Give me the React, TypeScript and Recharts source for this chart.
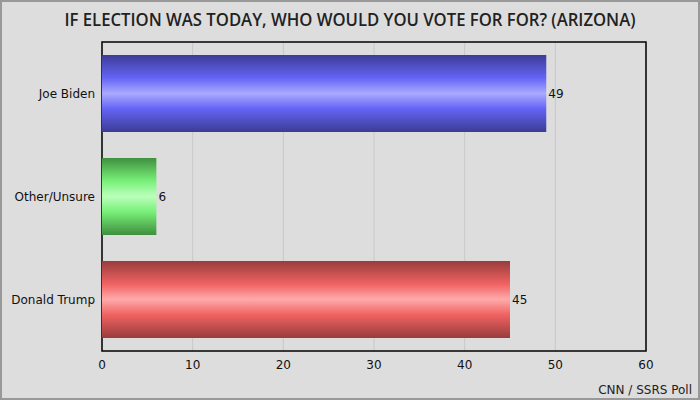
import React from 'react';
import { BarChart, Bar, XAxis, YAxis, CartesianGrid, LabelList, ReferenceArea, Cell } from 'recharts';

const categories = ['Joe Biden', 'Other/Unsure', 'Donald Trump'];
const values = [49, 6, 45];
const xTicks = [0, 10, 20, 30, 40, 50, 60];
const gradIds = ['gBlue', 'gGreen', 'gRed'];

const data = categories.map((name, i) => ({ name, value: values[i] }));

const grads = [
  { id: 'gBlue', edge: '#3c3c96', mid: '#6464f5', center: '#aaaaff' },
  { id: 'gGreen', edge: '#3f8f3f', mid: '#78f078', center: '#bbffbb' },
  { id: 'gRed', edge: '#983c3c', mid: '#f06262', center: '#ffaaaa' },
];

export default function App() {
  return (
    <div style={{ position: 'absolute', left: 0, top: 0, width: 700, height: 400, background: '#dddddd', boxSizing: 'border-box', border: '2px solid #999999', overflow: 'hidden' }}>
      <div style={{ position: 'absolute', left: -2, top: -2 }}>
        <BarChart width={700} height={400} data={data} layout="vertical" margin={{ top: 42, right: 54, bottom: 19, left: 0 }} barCategoryGap="12.5%">
          <defs>
            {grads.map(g => (
              <linearGradient key={g.id} id={g.id} x1="0" y1="0" x2="0" y2="1">
                <stop offset="0%" stopColor={g.edge} />
                <stop offset="30%" stopColor={g.mid} />
                <stop offset="50%" stopColor={g.center} />
                <stop offset="70%" stopColor={g.mid} />
                <stop offset="100%" stopColor={g.edge} />
              </linearGradient>
            ))}
          </defs>
          <CartesianGrid horizontal={false} stroke="#c8c8c8" fill="#dddddd" />
          <XAxis type="number" domain={[0, 60]} ticks={xTicks} height={30} tickLine={false} axisLine={false} tickSize={0} tickMargin={9} tick={{ fill: '#111', fontSize: 12, fontFamily: 'DejaVu Sans' }} interval={0} />
          <YAxis type="category" dataKey="name" width={102} tickLine={false} axisLine={false} tickSize={0} tickMargin={7} tick={{ fill: '#111', fontSize: 12, fontFamily: 'DejaVu Sans' }} />
          <ReferenceArea x1={0} x2={60} fill="none" stroke="#000" strokeOpacity={1} strokeWidth={1.5} fillOpacity={0} ifOverflow="visible" />
          <Bar dataKey="value" isAnimationActive={false}>
            {data.map((d, i) => (
              <Cell key={d.name} fill={`url(#${gradIds[i]})`} />
            ))}
            <LabelList dataKey="value" position="right" offset={2} fill="#111" fontSize={12} fontFamily="DejaVu Sans" />
          </Bar>
          <text x={350} y={26} textAnchor="middle" fontSize={18} fontWeight={600} fill="#222" fontFamily="Open Sans" textLength={571} lengthAdjust="spacingAndGlyphs">IF ELECTION WAS TODAY, WHO WOULD YOU VOTE FOR FOR? (ARIZONA)</text>
          <text x={692} y={394} textAnchor="end" fontSize={12} fill="#222" fontFamily="DejaVu Sans">CNN / SSRS Poll</text>
        </BarChart>
      </div>
    </div>
  );
}
